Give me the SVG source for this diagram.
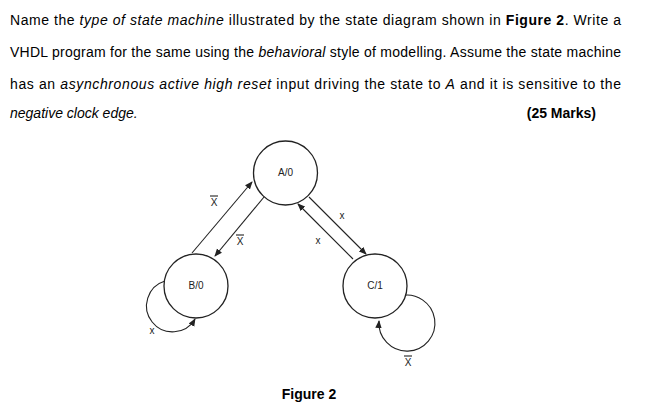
<svg xmlns="http://www.w3.org/2000/svg" width="650" height="418" viewBox="0 0 650 418">
<style>
.p{font-family:"Liberation Sans",Arial,sans-serif;font-size:14px;fill:#000}
.n{fill:#fff;stroke:#222;stroke-width:1.3}
.l{fill:none;stroke:#222;stroke-width:1.1}
.t{font-family:"Liberation Sans",Arial,sans-serif;font-size:10px;fill:#222;text-anchor:middle}
</style>
<defs><marker id="a" markerWidth="8" markerHeight="8" refX="7" refY="4" orient="auto" markerUnits="userSpaceOnUse"><path d="M0,0.8L8,4L0,7.2z" fill="#222"/></marker></defs>
<rect width="650" height="418" fill="#fff"/>
<text class="p" x="10" y="25" textLength="611" lengthAdjust="spacing">Name the <tspan font-style="italic">type of state machine</tspan> illustrated by the state diagram shown in <tspan font-weight="bold">Figure 2</tspan>. Write a</text>
<text class="p" x="10" y="57" textLength="611" lengthAdjust="spacing">VHDL program for the same using the <tspan font-style="italic">behavioral</tspan> style of modelling. Assume the state machine</text>
<text class="p" x="10" y="89" textLength="611" lengthAdjust="spacing">has an <tspan font-style="italic">asynchronous active high reset</tspan> input driving the state to <tspan font-style="italic">A</tspan> and it is sensitive to the</text>
<text class="p" x="10" y="118" font-style="italic">negative clock edge.</text>
<text class="p" x="596" y="118" font-weight="bold" text-anchor="end">(25 Marks)</text>
<g id="connectors">
<line class="l" x1="192" y1="253" x2="252" y2="182" marker-end="url(#a)"/>
<line class="l" x1="264" y1="197" x2="215" y2="256" marker-end="url(#a)"/>
<line class="l" x1="309" y1="197" x2="366" y2="254" marker-end="url(#a)"/>
<line class="l" x1="353" y1="259" x2="298" y2="204" marker-end="url(#a)"/>
<path class="l" d="M165,281 A26,26 0 1 0 195,319" marker-end="url(#a)"/>
<path class="l" d="M400,296 A28,28 0 1 1 379,321" marker-end="url(#a)"/>
<text class="t" x="214" y="206">X</text><line class="l" x1="210" y1="196" x2="218" y2="196"/>
<text class="t" x="240" y="245">X</text><line class="l" x1="236" y1="235" x2="244" y2="235"/>
<text class="t" x="342" y="219">x</text>
<text class="t" x="318" y="244">x</text>
<text class="t" x="152" y="334">x</text>
<text class="t" x="408" y="366">X</text><line class="l" x1="404" y1="356" x2="412" y2="356"/>
</g>
<g id="A"><circle class="n" cx="285.5" cy="173" r="32"/><text class="t" x="285.5" y="176">A/0</text></g>
<g id="B"><circle class="n" cx="196" cy="286" r="32"/><text class="t" x="196" y="289">B/0</text></g>
<g id="C"><circle class="n" cx="375" cy="286" r="32"/><text class="t" x="375" y="289">C/1</text></g>
<text class="p" x="309" y="399" font-weight="bold" text-anchor="middle" font-size="13">Figure 2</text>
</svg>
